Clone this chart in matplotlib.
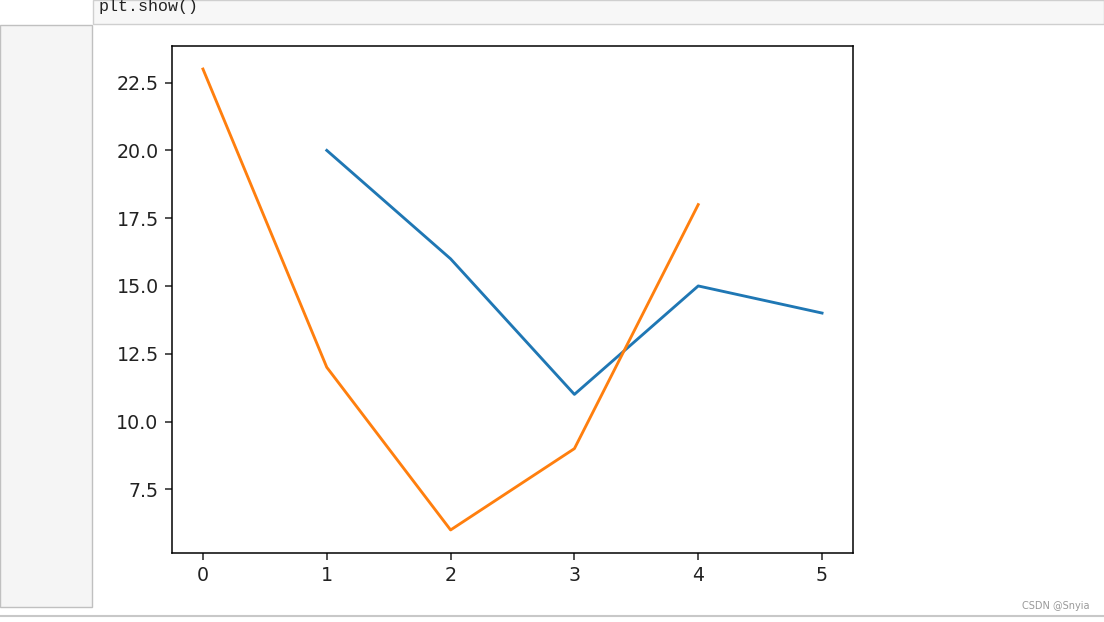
import matplotlib
matplotlib.use('Agg')
import matplotlib.pyplot as plt
from matplotlib.patches import Rectangle
from matplotlib.lines import Line2D

# datos de las dos series
x_blue = [1, 2, 3, 4, 5]
y_blue = [20, 16, 11, 15, 14]
x_orange = [0, 1, 2, 3, 4]
y_orange = [23, 12, 6, 9, 18]

s = 1.37  # escala de la captura

fig = plt.figure(figsize=(11.04, 6.22), dpi=100)

# marco del notebook
fig.patches.append(Rectangle((93 / 1104, 1 - 24 / 622), 1 - 93 / 1104, 24 / 622,
                             transform=fig.transFigure, facecolor='#f7f7f7',
                             edgecolor='#cfcfcf', linewidth=1, zorder=0))
fig.patches.append(Rectangle((0, 1 - 607 / 622), 92 / 1104, (607 - 25) / 622,
                             transform=fig.transFigure, facecolor='#f5f5f5',
                             edgecolor='#c0c0c0', linewidth=1, zorder=0))
fig.lines.append(Line2D([0, 1], [1 - 615.5 / 622] * 2, transform=fig.transFigure,
                        color='#c8c8c8', linewidth=1.5))
fig.text(99 / 1104, 1 - 7 / 622, 'plt.show()', family='Liberation Mono',
         fontsize=12, color='#222222', va='center', ha='left')
fig.text(1090 / 1104, 1 - 606 / 622, 'CSDN @Snyia', fontsize=7, color='#999999',
         va='center', ha='right')

ax = fig.add_axes([172 / 1104, 1 - 553 / 622, (853 - 172) / 1104, (553 - 46) / 622])
ax.plot(x_blue, y_blue, color='#1f77b4', linewidth=1.5 * s)
ax.plot(x_orange, y_orange, color='#ff7f0e', linewidth=1.5 * s)

for sp in ax.spines.values():
    sp.set_linewidth(0.8 * s)
ax.tick_params(labelsize=10 * s, length=3.5 * s, width=0.8 * s, pad=3.5 * s,
               colors='#222222')

fig.savefig('out.png', dpi=100)
